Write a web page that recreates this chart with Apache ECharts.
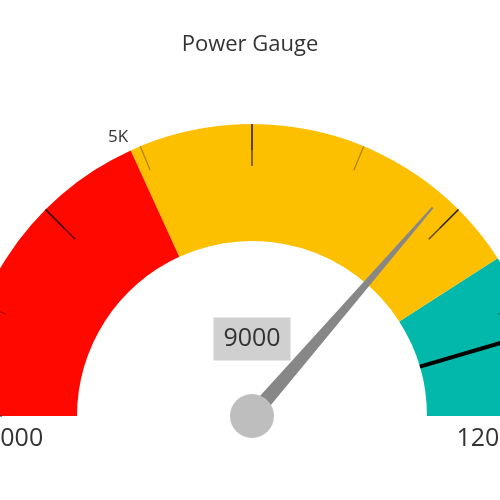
<!DOCTYPE html>
<html><head><meta charset="utf-8">
<script src="https://cdn.jsdelivr.net/npm/echarts@6/dist/echarts.min.js"></script>
<style>html,body{margin:0;padding:0;background:#fff}#c{width:500px;height:500px}</style>
</head><body><div id="c"></div>
<script>
// ---- data ----
const chartTitle = 'Power Gauge';
const minValue = 1000;
const maxValue = 12000;
const bandEnds = [5000, 10000, 12000];
const bandColors = ['#FF0800', '#FDC000', '#01B8AA'];
const gaugeValue = 9000;
const targetValue = 11000;
const markerValue = 5000;
const markerText = '5K';

// ---- layout ----
const C = [252, 416];
const R = 292;
const BAND = 117;
const FONT = '"Open Sans", "Noto Sans", sans-serif';

const bands = bandEnds.map((v, i) => [(v - minValue) / (maxValue - minValue), bandColors[i]]);

const common = { type: 'gauge', center: C, radius: R, startAngle: 180, endAngle: 0, min: minValue, max: maxValue };
const hidden = {
  axisLine: { show: false, lineStyle: { width: 0 } },
  splitLine: { show: false, length: 0, distance: 0 },
  axisTick: { show: false },
  axisLabel: { show: false },
  pointer: { show: false },
  anchor: { show: false },
  title: { show: false },
  detail: { show: false }
};

const option = {
  animation: false,
  backgroundColor: '#fff',
  title: { text: chartTitle, left: 'center', top: 29, textStyle: { fontFamily: FONT, fontSize: 22, fontWeight: 'normal', color: '#333' } },
  series: [
    Object.assign({}, common, {
      splitNumber: 4,
      axisLine: { lineStyle: { width: BAND, color: bands } },
      splitLine: { distance: -BAND, length: 42, lineStyle: { color: 'rgba(0,0,0,0.62)', width: 1.5 } },
      axisTick: { splitNumber: 2, distance: -BAND, length: 26, lineStyle: { color: 'rgba(0,0,0,0.33)', width: 1.2 } },
      axisLabel: { show: false },
      pointer: { icon: 'path://M4.3,0 L5.7,0 L10,100 L0,100 Z', length: 276, width: 15, itemStyle: { color: '#878787' } },
      anchor: { show: true, showAbove: true, size: 44, itemStyle: { color: '#BEBEBE' } },
      title: { show: false },
      detail: {
        offsetCenter: [0, -77], fontFamily: FONT, fontSize: 25, fontWeight: 'normal', lineHeight: 27, color: '#333',
        width: 57, height: 27, backgroundColor: '#D0D0D0', padding: [8, 10, 8, 10], formatter: '{value}'
      },
      data: [{ value: gaugeValue }]
    }),
    Object.assign({}, common, hidden, {
      z: 3,
      pointer: { show: true, icon: 'rect', length: 125, width: 4, offsetCenter: [0, -(R - BAND)], itemStyle: { color: '#000' } },
      data: [{ value: targetValue }]
    }),
    Object.assign({}, common, hidden, {
      title: { show: true, offsetCenter: [-134, -279], fontFamily: FONT, fontSize: 17, color: '#333' },
      data: [{ value: markerValue, name: markerText }]
    }),
    Object.assign({}, common, hidden, {
      center: [C[0], 439], radius: 276, splitNumber: 1,
      axisLabel: {
        show: true, distance: 0, fontFamily: FONT, fontSize: 25, color: '#333',
        formatter: v => v === minValue ? '{l|' + v + '}' : String(v),
        rich: { l: { padding: [0, 0, 0, 10], fontFamily: FONT, fontSize: 25, color: '#333' } }
      },
      data: [{ value: minValue }]
    })
  ]
};
echarts.init(document.getElementById('c')).setOption(option);
</script></body></html>
